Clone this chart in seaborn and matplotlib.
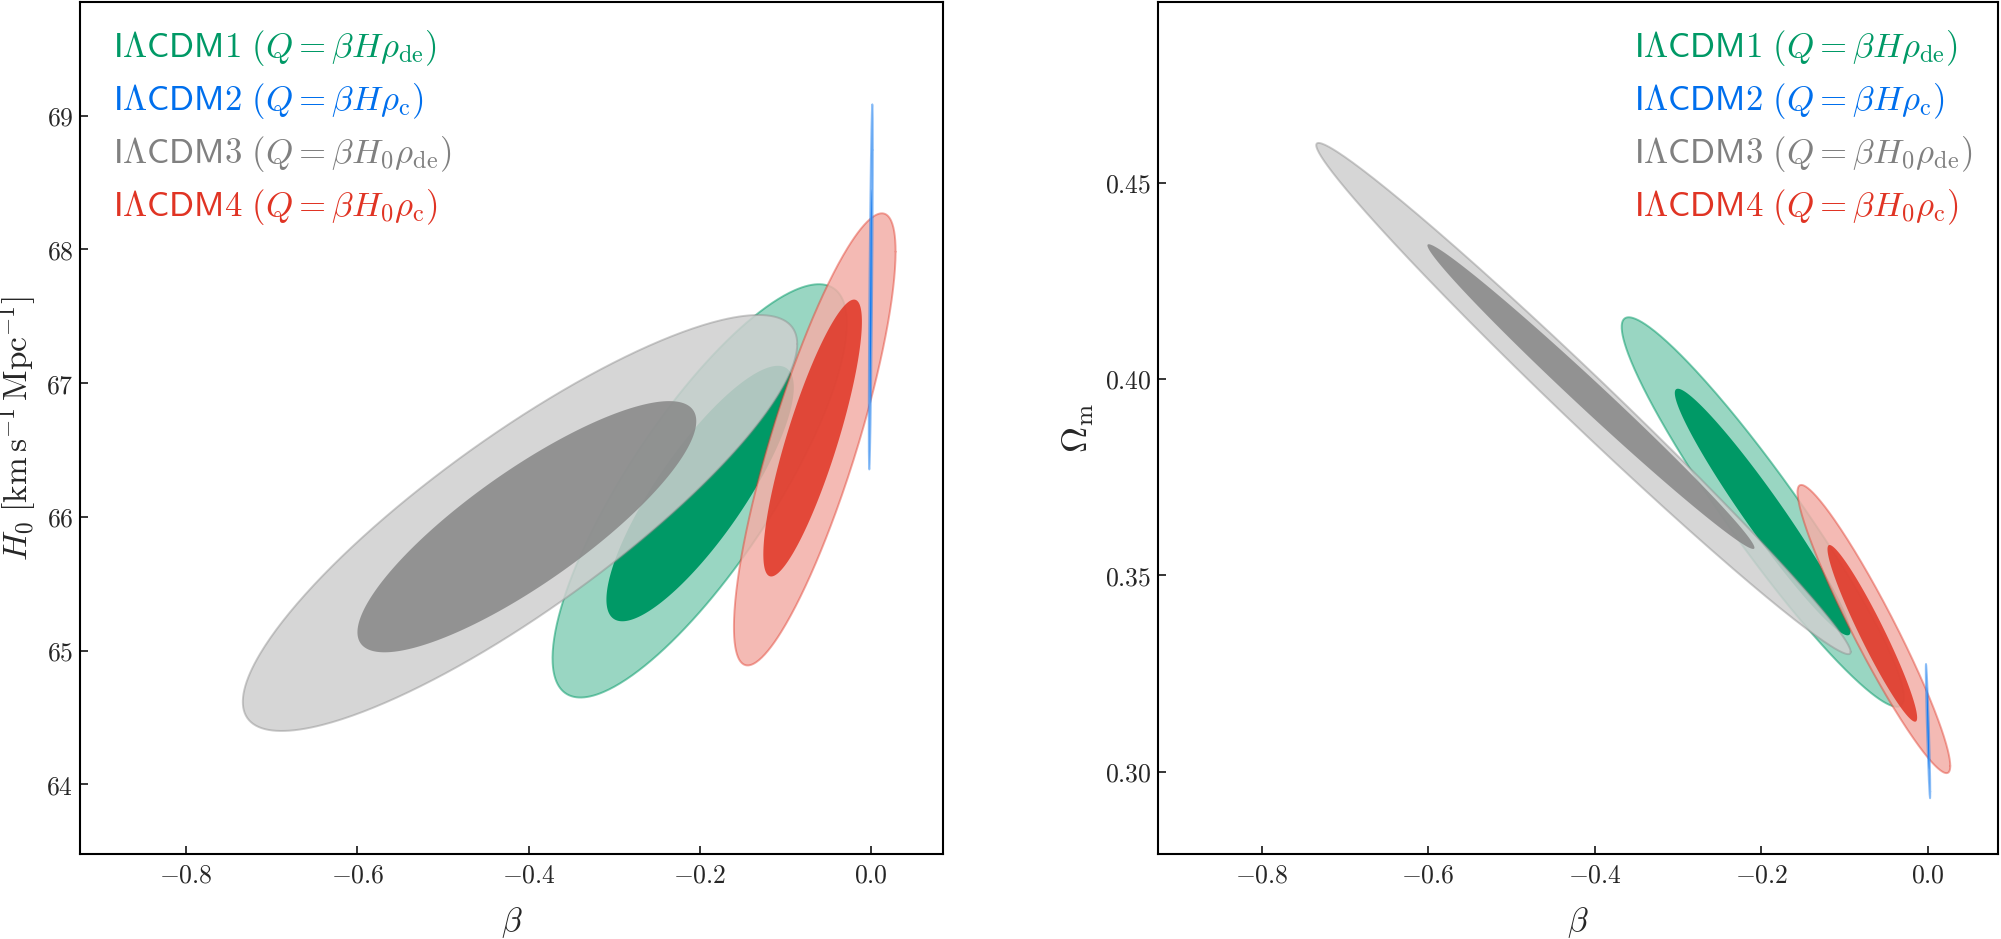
import numpy as np
import matplotlib
matplotlib.use("Agg")
import matplotlib.pyplot as plt
import seaborn as sns
from matplotlib.lines import Line2D
from matplotlib.ticker import FuncFormatter

# ------------------------------
# Data: contour regions
# each region is (centre beta, centre y, half-width beta, half-height y, correlation)
# ------------------------------
labels = [
    r"$\mathsf{I\Lambda CDM1}\ (Q=\beta H\rho_{\rm de})$",
    r"$\mathsf{I\Lambda CDM2}\ (Q=\beta H\rho_{\rm c})$",
    r"$\mathsf{I\Lambda CDM3}\ (Q=\beta H_0\rho_{\rm de})$",
    r"$\mathsf{I\Lambda CDM4}\ (Q=\beta H_0\rho_{\rm c})$",
]
colors = ["#009966", "#006FED", "gray", "#E03424"]
fill_colors = ["#009966", "#006FED", "#878787", "#E03424"]

# beta - H0 plane
h0_outer = [
    (-0.200, 66.195, 0.172, 1.545, 0.81),
    (0.000, 67.720, 0.0024, 1.365, 0.75),
    (-0.410, 65.955, 0.324, 1.555, 0.86),
    (-0.0655, 66.580, 0.0945, 1.690, 0.83),
]
h0_inner = [
    (-0.1995, 66.175, 0.1095, 0.955, 0.83),
    (0.000, 67.650, 0.0012, 0.800, 0.75),
    (-0.402, 65.927, 0.198, 0.939, 0.84),
    (-0.068, 66.590, 0.0576, 1.035, 0.84),
]

# beta - Omega_m plane
om_outer = [
    (-0.1984, 0.3661, 0.1694, 0.0496, -0.950),
    (0.000, 0.3103, 0.0027, 0.0171, -0.90),
    (-0.4137, 0.3950, 0.3208, 0.0651, -0.991),
    (-0.0650, 0.3363, 0.0917, 0.0367, -0.950),
]
om_inner = [
    (-0.1985, 0.3661, 0.1055, 0.0314, -0.965),
    (0.000, 0.3110, 0.0014, 0.0105, -0.90),
    (-0.4047, 0.3955, 0.1963, 0.0388, -0.992),
    (-0.0669, 0.3352, 0.0538, 0.0225, -0.953),
]

beta_ticks = [-0.8, -0.6, -0.4, -0.2, 0.0]
h0_ticks = [64, 65, 66, 67, 68, 69]
om_ticks = [0.30, 0.35, 0.40, 0.45]

# draw order: first model opaque, the rest on top with alpha (getdist style)
draw_order = [0, 2, 3, 1]


def outline(region, n=400):
    mx, my, ax_, ay_, rho = region
    t = np.linspace(0, 2 * np.pi, n)
    x = mx + ax_ * np.cos(t)
    y = my + ay_ * (rho * np.cos(t) + np.sqrt(1 - rho ** 2) * np.sin(t))
    return x, y


def lighten(c, f=0.6):
    r = np.array(matplotlib.colors.to_rgb(c))
    return tuple(r + (1 - r) * f)


sns.set_theme(style="white")
plt.rcParams["mathtext.fontset"] = "cm"
plt.rcParams["font.family"] = ["DejaVu Sans"]
plt.rcParams["axes.linewidth"] = 1.5
plt.rcParams["axes.edgecolor"] = "black"

fig = plt.figure(figsize=(20.01, 9.39), dpi=100)
ax1 = fig.add_axes([0.0401, 0.0905, 0.4310, 0.9074])
ax2 = fig.add_axes([0.5789, 0.0905, 0.4196, 0.9074])


def draw_panel(ax, outer, inner):
    for k, i in enumerate(draw_order):
        a = 1.0 if k == 0 else 0.85
        xo, yo = outline(outer[i])
        xi, yi = outline(inner[i])
        ax.fill(xo, yo, color=lighten(fill_colors[i]), alpha=a, lw=0, zorder=2 + k)
        ax.fill(xi, yi, color=fill_colors[i], alpha=a, lw=0, zorder=2 + k)
        sns.lineplot(x=xo, y=yo, sort=False, estimator=None, ax=ax,
                     color=fill_colors[i], alpha=0.5 * a, lw=1.4, zorder=2 + k)


draw_panel(ax1, h0_outer, h0_inner)
draw_panel(ax2, om_outer, om_inner)

for ax in (ax1, ax2):
    ax.set_xlim(-0.924, 0.084)
    ax.set_xticks(beta_ticks)
    ax.xaxis.set_major_formatter(FuncFormatter(lambda v, p: f"${v:.1f}$"))
    ax.tick_params(direction="in", length=6, width=1.3, labelsize=18.5,
                   top=False, right=False, bottom=True, left=True)
    ax.tick_params(axis="x", pad=6)
    ax.tick_params(axis="y", pad=5)
    ax.set_xlabel(r"$\beta$", fontsize=24, labelpad=12)
    for s in ax.spines.values():
        s.set_visible(True)
        s.set_linewidth(1.5)

ax1.set_ylim(63.48, 69.85)
ax1.set_yticks(h0_ticks)
ax1.yaxis.set_major_formatter(FuncFormatter(lambda v, p: f"${v:.0f}$"))
ax1.set_ylabel(r"$H_0\;[{\rm km}\,{\rm s}^{-1}\,{\rm Mpc}^{-1}]$", fontsize=24, labelpad=5)

ax2.set_ylim(0.279, 0.496)
ax2.set_yticks(om_ticks)
ax2.yaxis.set_major_formatter(FuncFormatter(lambda v, p: f"${v:.2f}$"))
ax2.set_ylabel(r"$\Omega_{\rm m}$", fontsize=26, labelpad=6)

# legends as coloured text only
handles = [Line2D([], [], color=c, lw=0) for c in colors]
for ax, xpos in ((ax1, 0.038), (ax2, 0.567)):
    ax.legend(handles, labels, loc="upper left", bbox_to_anchor=(xpos, 0.970),
              frameon=False, handlelength=0, handletextpad=0, borderpad=0,
              borderaxespad=0, labelspacing=0.38, fontsize=25, labelcolor=colors)

fig.savefig("out.png", dpi=100)
